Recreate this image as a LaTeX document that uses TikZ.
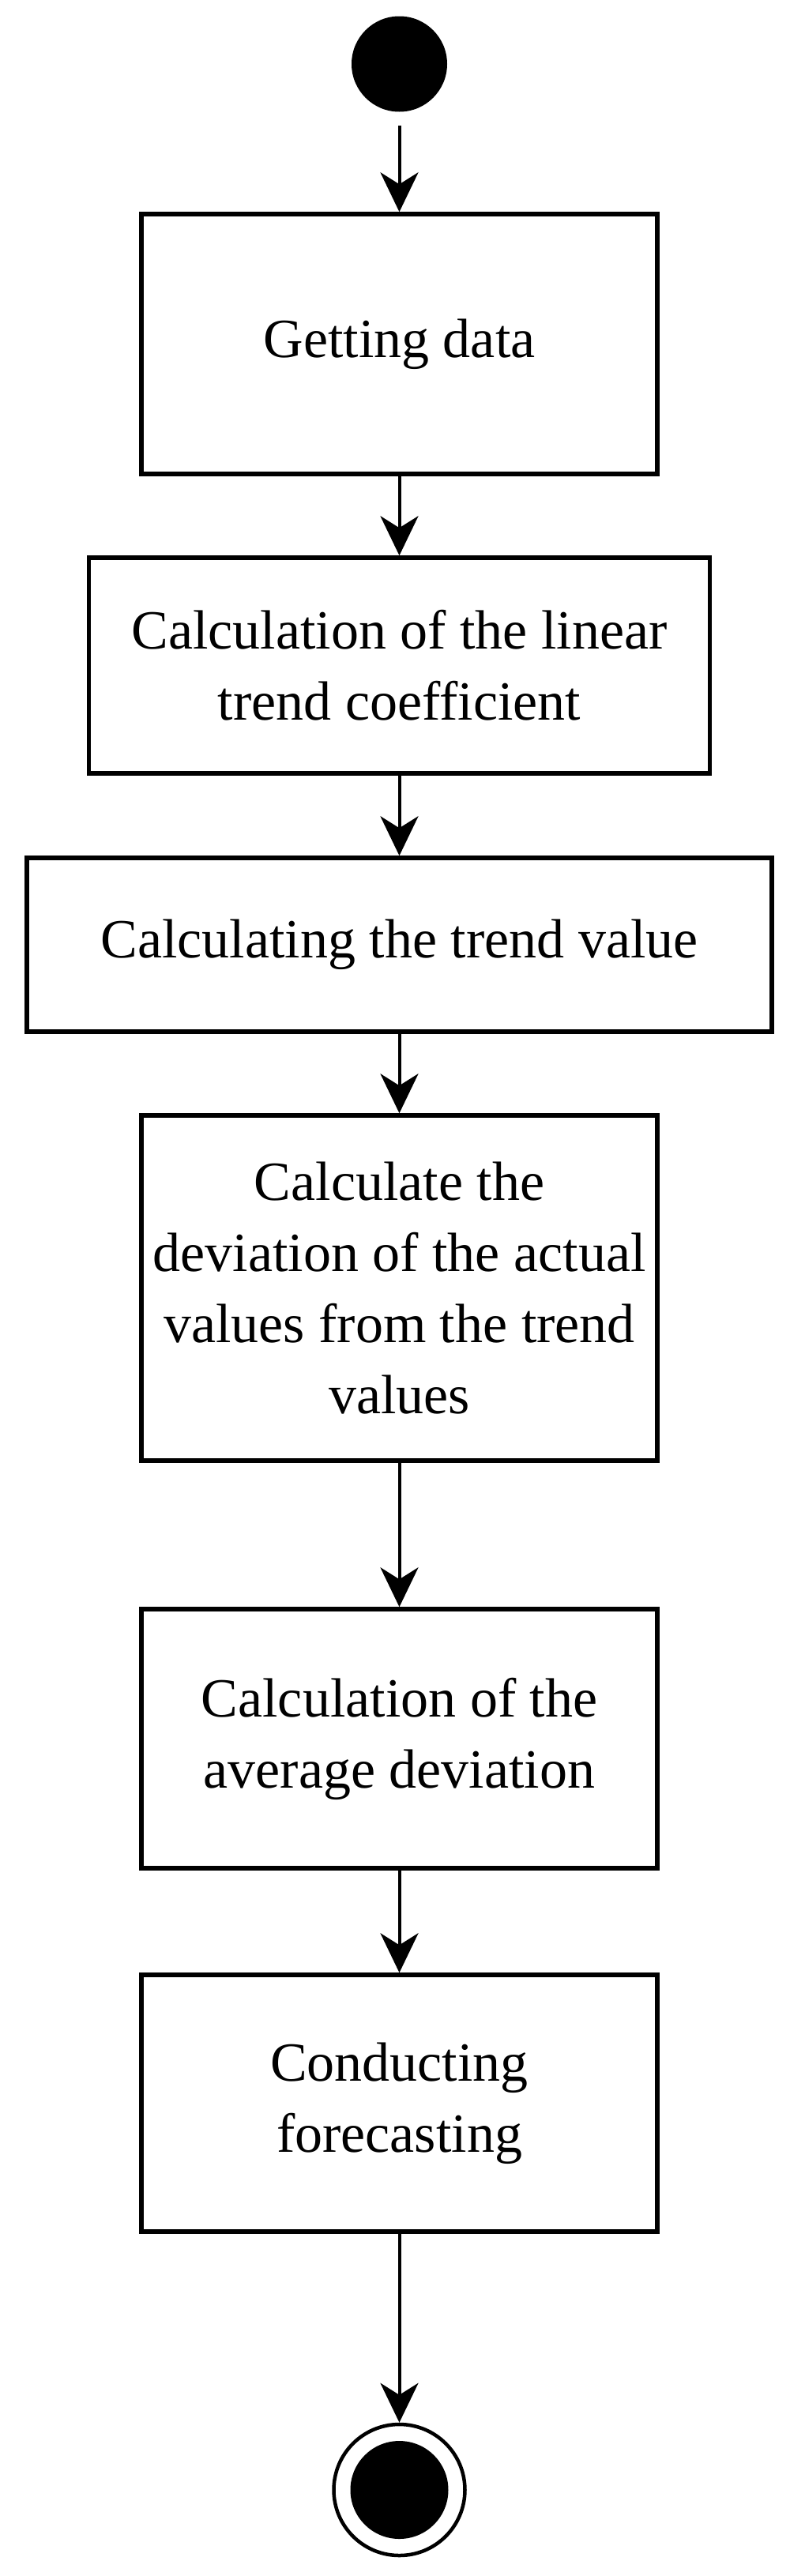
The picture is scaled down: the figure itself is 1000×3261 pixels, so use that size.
\documentclass[tikz,border=0pt]{standalone}
\usepackage{fontspec}
\setmainfont{Liberation Serif}
\usetikzlibrary{arrows.meta}

\begin{document}
\begin{tikzpicture}[x=1pt, y=-1pt,
    activity/.style={draw, line width=5.5pt, rectangle, align=center, inner sep=0pt,
        font=\fontsize{70}{90}\selectfont},
    flow/.style={-{Stealth[length=50pt, width=48pt, inset=15pt]}, line width=4pt},
    initial/.style={circle, fill=black, minimum size=121pt, inner sep=0pt},
    final/.style={circle, draw, line width=4.5pt, minimum size=166pt, inner sep=0pt,
        path picture={\fill (path picture bounding box.center) circle (62pt);}}
]

\useasboundingbox (0,0) rectangle (1000,3261);

% Centre line of the flow
\def\cx{505.5}

% Start state
\node[initial] (start) at (\cx,81) {};

% Activities
\node[activity, minimum width=653pt, minimum height=329pt] (get) at (\cx,435.5) {Getting data};
\node[activity, minimum width=786pt, minimum height=273pt] (coef) at (\cx,842.5)
    {Calculation of the linear\\trend coefficient};
\node[activity, minimum width=943pt, minimum height=220pt] (trend) at (\cx,1196)
    {Calculating the trend value};
\node[activity, minimum width=653pt, minimum height=437pt] (dev) at (\cx,1630.5)
    {Calculate the\\deviation of the actual\\values from the trend\\values};
\node[activity, minimum width=653pt, minimum height=328pt] (avg) at (\cx,2201)
    {Calculation of the\\average deviation};
\node[activity, minimum width=653pt, minimum height=325pt] (fore) at (\cx,2662.5)
    {Conducting\\forecasting};

% Final state
\node[final] (stop) at (\cx,3152) {};

% Connectors
\draw[flow, shorten <=17pt] (start) -- (get);
\foreach \a/\b in {get/coef, coef/trend, trend/dev, dev/avg, avg/fore, fore/stop} {
    \draw[flow] (\a) -- (\b);
}

\end{tikzpicture}
\end{document}
